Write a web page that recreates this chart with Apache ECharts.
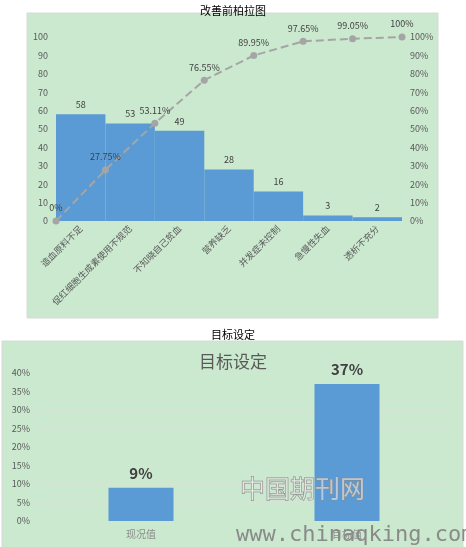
<!DOCTYPE html>
<html>
<head>
<meta charset="utf-8">
<script src="https://cdn.jsdelivr.net/npm/echarts@6/dist/echarts.min.js"></script>
<style>
  html, body { margin: 0; padding: 0; background: #fff; }
  #main { width: 466px; height: 547px; }
</style>
</head>
<body>
<div id="main"></div>
<script>
// 改善前柏拉图
var causes = ['造血原料不足', '促红细胞生成素使用不规范', '不知晓自己贫血', '营养缺乏', '并发症未控制', '急慢性失血', '透析不充分']
var counts = [58, 53, 49, 28, 16, 3, 2]
var cumPoints = ['0', '1', '2', '3', '4', '5', '6', '7']
var cumPercent = [0, 27.75, 53.11, 76.55, 89.95, 97.65, 99.05, 100]
// 目标设定
var goalCats = ['现况值', '目标值']
var goalValues = [0.09, 0.37]

var chart = echarts.init(document.getElementById('main'))
var font = '"Noto Sans CJK SC", "Noto Sans", sans-serif'
var greenBg = '#cbe9cf'

var option = {
  animation: false,
  textStyle: { fontFamily: font },
  title: [{
    text: '改善前柏拉图',
    left: 'center',
    top: 0,
    textStyle: { fontSize: 11, fontWeight: 'normal', color: '#000' }
  }, {
    text: '目标设定',
    left: 'center',
    top: 324,
    textStyle: { fontSize: 11, fontWeight: 'normal', color: '#000' }
  }, {
    text: '目标设定',
    left: 'center',
    top: 348,
    textStyle: { fontSize: 17, fontWeight: 'normal', color: '#595959' }
  }],
  graphic: [{
    type: 'rect',
    z: -10,
    shape: { x: 27, y: 13, width: 411, height: 305 },
    style: { fill: greenBg, stroke: '#d9d9d9', lineWidth: 1 }
  }, {
    type: 'rect',
    z: -10,
    shape: { x: 2, y: 341, width: 461, height: 210 },
    style: { fill: greenBg, stroke: '#d9d9d9', lineWidth: 1 }
  }, {
    type: 'text',
    z: 100,
    x: 240,
    y: 476,
    style: {
      text: '中国期刊网',
      font: '25px "Noto Sans CJK SC"',
      fill: 'rgba(255,255,255,0.5)',
      stroke: '#8a8a8a',
      lineWidth: 1
    }
  }, {
    type: 'text',
    z: 100,
    x: 236,
    y: 524,
    style: {
      text: 'www.chinaqking.com',
      font: '22px "DejaVu Sans Mono"',
      fill: '#8a8a8a'
    }
  }],
  grid: [{
    left: 56,
    right: 64,
    top: 37,
    bottom: 326
  }, {
    left: 38,
    right: 16,
    top: 373,
    bottom: 26
  }],
  xAxis: [{
    type: 'category',
    gridIndex: 0,
    data: causes,
    axisLine: { show: false },
    axisTick: { show: false },
    axisLabel: {
      rotate: 45,
      interval: 0,
      margin: 6,
      fontSize: 9,
      color: '#595959'
    }
  }, {
    type: 'category',
    gridIndex: 0,
    data: cumPoints,
    boundaryGap: false,
    show: false
  }, {
    type: 'category',
    gridIndex: 1,
    data: goalCats,
    axisLine: { show: false },
    axisTick: { show: false },
    axisLabel: { margin: 8, fontSize: 10, color: '#8c8c8c' }
  }],
  yAxis: [{
    type: 'value',
    gridIndex: 0,
    min: 0,
    max: 100,
    interval: 10,
    axisLine: { show: false },
    axisTick: { show: false },
    splitLine: { show: false },
    axisLabel: { margin: 8, fontSize: 9, color: '#595959' }
  }, {
    type: 'value',
    gridIndex: 0,
    position: 'right',
    min: 0,
    max: 100,
    interval: 10,
    axisLine: { show: false },
    axisTick: { show: false },
    splitLine: { show: false },
    axisLabel: { margin: 8, fontSize: 9, color: '#595959', formatter: '{value}%' }
  }, {
    type: 'value',
    gridIndex: 1,
    min: 0,
    max: 0.4,
    interval: 0.05,
    axisLine: { show: false },
    axisTick: { show: false },
    splitLine: { lineStyle: { color: '#d6e4d6' } },
    axisLabel: {
      margin: 8,
      fontSize: 9,
      color: '#595959',
      formatter: function (v) { return Math.round(v * 100) + '%' }
    }
  }],
  series: [{
    type: 'bar',
    xAxisIndex: 0,
    yAxisIndex: 0,
    data: counts,
    barCategoryGap: '0%',
    itemStyle: { color: '#5b9bd5' },
    label: { show: true, position: 'top', fontSize: 9, color: '#404040' }
  }, {
    type: 'line',
    xAxisIndex: 1,
    yAxisIndex: 1,
    data: cumPercent,
    symbol: 'circle',
    symbolSize: 7,
    itemStyle: { color: '#a5a5a5' },
    lineStyle: { color: '#a5a5a5', width: 2, type: 'dashed' },
    label: { show: true, position: 'top', fontSize: 9, color: '#404040', formatter: '{c}%' },
    z: 5
  }, {
    type: 'bar',
    xAxisIndex: 2,
    yAxisIndex: 2,
    data: goalValues,
    barWidth: 65,
    itemStyle: { color: '#5b9bd5' },
    label: {
      show: true,
      position: 'top',
      distance: 7,
      fontSize: 15,
      fontWeight: 'bold',
      color: '#404040',
      formatter: function (p) { return Math.round(p.value * 100) + '%' }
    }
  }]
}

chart.setOption(option)
window.addEventListener('resize', function () {
  chart.resize()
})
</script>
</body>
</html>
